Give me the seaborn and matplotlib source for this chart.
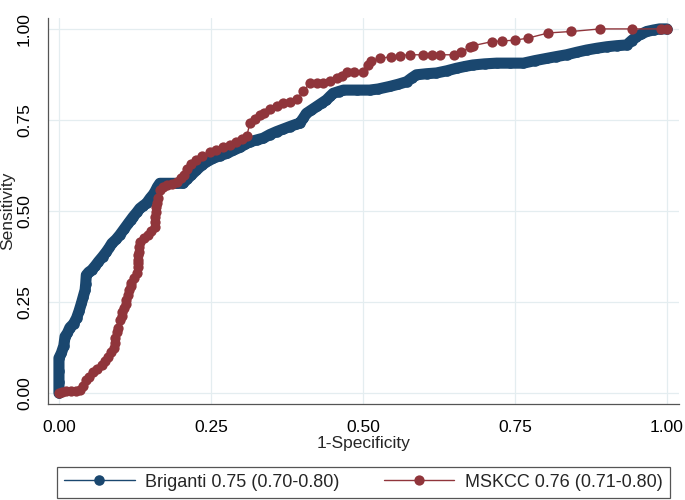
import pandas as pd
import matplotlib
matplotlib.use("Agg")
import matplotlib.pyplot as plt
import seaborn as sns

# --- dados (ROC) ---
briganti_x = [0, 0, 0, 0, 0.004, 0.008, 0.01, 0.014, 0.018, 0.024, 0.029, 0.033, 0.037, 0.04,
              0.043, 0.044, 0.045, 0.049, 0.054, 0.06, 0.065, 0.072, 0.078, 0.083, 0.087, 0.094,
              0.1, 0.107, 0.114, 0.118, 0.122, 0.128, 0.133, 0.139, 0.144, 0.15, 0.155, 0.158,
              0.162, 0.166, 0.175, 0.183, 0.194, 0.204, 0.211, 0.218, 0.226, 0.235, 0.244, 0.254,
              0.265, 0.276, 0.287, 0.298, 0.306, 0.314, 0.325, 0.336, 0.347, 0.358, 0.369, 0.38,
              0.39, 0.396, 0.402, 0.407, 0.415, 0.424, 0.432, 0.44, 0.446, 0.451, 0.46, 0.468,
              0.49, 0.511, 0.525, 0.544, 0.558, 0.572, 0.58, 0.588, 0.605, 0.621, 0.638, 0.654,
              0.668, 0.681, 0.7, 0.72, 0.742, 0.764, 0.783, 0.802, 0.818, 0.835, 0.852, 0.868,
              0.885, 0.901, 0.918, 0.934, 0.942, 0.95, 0.958, 0.967, 0.978, 0.988, 1.0]
briganti_y = [0, 0.03, 0.06, 0.096, 0.11, 0.13, 0.155, 0.165, 0.18, 0.19, 0.206, 0.225, 0.247, 0.265,
              0.283, 0.3, 0.324, 0.332, 0.338, 0.35, 0.361, 0.375, 0.388, 0.4, 0.411, 0.422,
              0.434, 0.45, 0.466, 0.475, 0.484, 0.496, 0.507, 0.515, 0.521, 0.535, 0.545, 0.553,
              0.566, 0.576, 0.576, 0.576, 0.576, 0.576, 0.588, 0.599, 0.612, 0.626, 0.636, 0.645,
              0.652, 0.658, 0.667, 0.675, 0.683, 0.69, 0.695, 0.7, 0.71, 0.718, 0.725, 0.732,
              0.738, 0.741, 0.755, 0.768, 0.777, 0.787, 0.796, 0.805, 0.815, 0.823, 0.828, 0.832,
              0.832, 0.832, 0.835, 0.842, 0.848, 0.855, 0.865, 0.874, 0.877, 0.879, 0.885, 0.892,
              0.897, 0.901, 0.904, 0.906, 0.906, 0.906, 0.913, 0.919, 0.924, 0.929, 0.936, 0.942,
              0.947, 0.951, 0.954, 0.956, 0.968, 0.979, 0.986, 0.993, 0.997, 1.0, 1.0]

mskcc_x = [0, 0.005, 0.012, 0.02, 0.028, 0.035, 0.04, 0.045, 0.05, 0.056, 0.063, 0.07, 0.076,
           0.081, 0.086, 0.09, 0.092, 0.093, 0.095, 0.097, 0.1, 0.103, 0.103, 0.107, 0.111, 0.111,
           0.113, 0.116, 0.118, 0.118, 0.123, 0.128, 0.13, 0.13, 0.13, 0.13, 0.131, 0.131, 0.133,
           0.14, 0.147, 0.152, 0.158, 0.158, 0.158, 0.159, 0.16, 0.161, 0.163, 0.166, 0.171, 0.177,
           0.186, 0.194, 0.2, 0.205, 0.21, 0.218, 0.226, 0.236, 0.248, 0.259, 0.27, 0.281, 0.292,
           0.301, 0.309, 0.314, 0.322, 0.33, 0.338, 0.347, 0.358, 0.369, 0.38, 0.391, 0.402, 0.413,
           0.424, 0.435, 0.446, 0.457, 0.465, 0.473, 0.486, 0.5, 0.508, 0.513, 0.528, 0.547, 0.561,
           0.577, 0.599, 0.613, 0.627, 0.649, 0.662, 0.676, 0.681, 0.712, 0.728, 0.75, 0.772,
           0.805, 0.843, 0.89, 0.943, 0.99, 1.0]
mskcc_y = [0, 0.003, 0.005, 0.006, 0.007, 0.008, 0.02, 0.036, 0.045, 0.058, 0.066, 0.077, 0.088,
           0.1, 0.113, 0.125, 0.137, 0.15, 0.168, 0.18, 0.2, 0.212, 0.223, 0.235, 0.245, 0.255,
           0.268, 0.283, 0.295, 0.301, 0.315, 0.329, 0.347, 0.357, 0.365, 0.378, 0.388, 0.4, 0.416,
           0.425, 0.434, 0.445, 0.457, 0.47, 0.484, 0.497, 0.51, 0.521, 0.535, 0.558, 0.565, 0.571,
           0.574, 0.58, 0.59, 0.6, 0.615, 0.63, 0.64, 0.65, 0.663, 0.668, 0.675, 0.682, 0.69,
           0.698, 0.706, 0.741, 0.752, 0.764, 0.77, 0.779, 0.787, 0.796, 0.8, 0.807, 0.83, 0.851,
           0.851, 0.851, 0.857, 0.864, 0.872, 0.883, 0.883, 0.883, 0.9, 0.913, 0.919, 0.924, 0.927,
           0.929, 0.929, 0.929, 0.929, 0.929, 0.937, 0.949, 0.954, 0.965, 0.967, 0.969, 0.975,
           0.989, 0.993, 1.0, 1.0, 1.0, 1.0]

labels = ['Briganti 0.75 (0.70-0.80)', 'MSKCC 0.76 (0.71-0.80)']
ticks = [0, 0.25, 0.5, 0.75, 1.0]
tick_labels = ['0.00', '0.25', '0.50', '0.75', '1.00']

azul = '#1a476f'
vermelho = '#90353b'

sns.set_style('white')
plt.rcParams['font.family'] = ['Liberation Sans', 'DejaVu Sans']

fig = plt.figure(figsize=(6.85, 5), dpi=100)
ax = fig.add_axes([0.0701, 0.192, 0.9212, 0.772])

df_b = pd.DataFrame({'x': briganti_x, 'y': briganti_y})
df_m = pd.DataFrame({'x': mskcc_x, 'y': mskcc_y})

# faixa grossa da curva Briganti (pontos muito densos no original)
ax.plot(df_b['x'], df_b['y'], color=azul, lw=8, solid_capstyle='round',
        solid_joinstyle='round', zorder=2)
sns.lineplot(data=df_b, x='x', y='y', sort=False, estimator=None, ax=ax, color=azul,
             lw=1, marker='o', markersize=7.6, markeredgewidth=0, label=labels[0], zorder=3)
sns.lineplot(data=df_m, x='x', y='y', sort=False, estimator=None, ax=ax, color=vermelho,
             lw=1, marker='o', markersize=7.4, markeredgewidth=0, label=labels[1], zorder=4)

ax.set_xlim(-0.018, 1.02)
ax.set_ylim(-0.03, 1.03)
ax.set_xticks(ticks)
ax.set_xticklabels(tick_labels)
ax.set_yticks(ticks)
ax.set_yticklabels(tick_labels, rotation=90, va='center')
ax.grid(True, color='#e4edf0', lw=0.9)
ax.set_axisbelow(True)

for lado in ['top', 'right']:
    ax.spines[lado].set_visible(False)
for lado in ['left', 'bottom']:
    ax.spines[lado].set_color('#555555')
    ax.spines[lado].set_linewidth(0.9)

ax.tick_params(axis='both', direction='out', length=7, width=0.8, color='#555555',
               labelsize=12.5, labelcolor='black', pad=4.5)
ax.set_xlabel('1-Specificity', fontsize=12.5, labelpad=0.5)
ax.set_ylabel('Sensitivity', fontsize=12.5, labelpad=1)

handles, labs = ax.get_legend_handles_labels()
ax.get_legend().remove()
leg = fig.legend(handles, labs, loc='lower left', ncol=2, mode='expand',
                 bbox_to_anchor=(57 / 685, 0.004, 613 / 685, 0.07), borderaxespad=0,
                 fontsize=13, frameon=True, fancybox=False, framealpha=1,
                 handlelength=3.9, handletextpad=0.6, columnspacing=1.6, borderpad=0.4)
leg.get_frame().set_edgecolor('#555555')
leg.get_frame().set_linewidth(0.9)

plt.savefig('out.png', dpi=100)
